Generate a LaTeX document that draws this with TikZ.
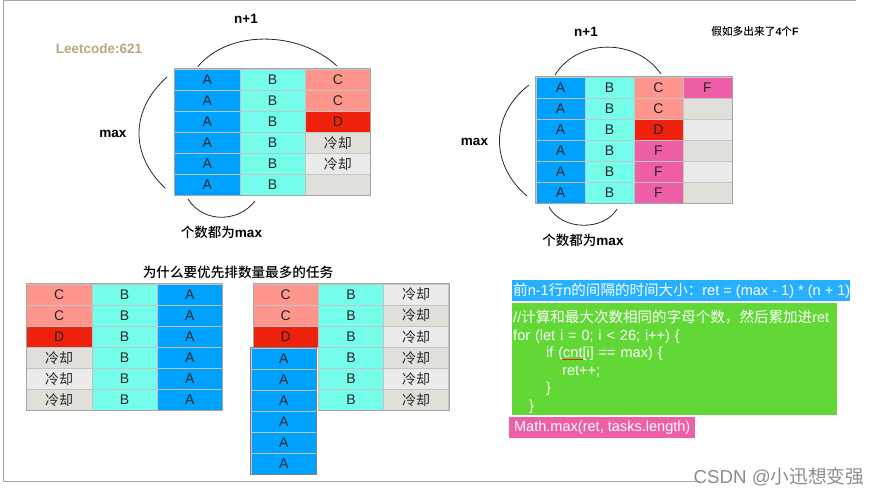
\documentclass[tikz,border=0pt]{standalone}
\usepackage{xcolor}
\usepackage{fontspec}
\setmainfont{Liberation Sans}
\newfontfamily\cjk[BoldFont={Noto Sans CJK SC Medium}]{Noto Sans CJK SC}
\definecolor{taskblue}{HTML}{00A2FF}
\definecolor{taskteal}{HTML}{73FDEA}
\definecolor{tasksalmon}{HTML}{FF968D}
\definecolor{taskred}{HTML}{EE220C}
\definecolor{taskpink}{HTML}{EF5FA7}
\definecolor{taskgrey}{HTML}{E0DFDA}
\definecolor{tasklight}{HTML}{EBEBEB}
\definecolor{taskgreen}{HTML}{61D836}
\definecolor{taskline}{HTML}{C4C4C4}
\definecolor{tasktan}{HTML}{B8A77C}
\definecolor{framegrey}{HTML}{A6A6A6}
\tikzset{
	cell/.style={draw=taskline,line width=0.5pt,minimum height=21.1pt,inner sep=0pt,text=black!85,font=\fontsize{14}{14}\selectfont},
	edge/.style={draw=framegrey,line width=0.8pt},
	brace/.style={draw=black!85,line width=0.8pt},
	label/.style={inner sep=0pt,font=\fontsize{13.5}{14}\selectfont\bfseries},
	code/.style={inner sep=0pt,anchor=north west,text=white,font=\fontsize{14.55}{17.6}\selectfont},
}
\newcommand{\cool}{\raisebox{-1.5pt}{\cjk 冷却}}
% one column of a table: name, centre x, top y, width, fill/text list
\newcommand{\taskcol}[5]{
	\foreach \fillc/\txt [count=\i] in {#5}
		\node[cell,fill=\fillc,minimum width=#4pt] (#1\i) at (#2,{#3+(\i-0.5)*21.1}) {\txt};
}
\begin{document}
\begin{tikzpicture}[x=1pt,y=-1pt]
	\useasboundingbox (0,0) rectangle (880,496);
	\draw[framegrey,line width=0.8pt] (856,0.5) -- (3.5,0.5) -- (3.5,481.5) -- (700,481.5);

	\node[label,text=tasktan] (leet) at (99,48.5) {Leetcode:621};

	% first table
	\taskcol{a}{207.2}{69}{65.3}{taskblue/A,taskblue/A,taskblue/A,taskblue/A,taskblue/A,taskblue/A}
	\taskcol{b}{272.5}{69}{65.3}{taskteal/B,taskteal/B,taskteal/B,taskteal/B,taskteal/B,taskteal/B}
	\taskcol{c}{337.8}{69}{65.3}{tasksalmon/C,tasksalmon/C,taskred/D,taskgrey/\cool,tasklight/\cool,taskgrey/}
	\draw[edge] (a1.north west) rectangle (c6.south east);
	\node[label] (n1) at (246,18.5) {n+1};
	\node[label] (max1) at (113,134) {max};
	\node[label] (all1) at (221.5,232) {{\cjk 个数都为}max};
	\draw[brace] (198,66.5) .. controls (228,30) and (298,30) .. (337,66);
	\draw[brace] (167,77) .. controls (130,110) and (130,155) .. (165,188);
	\draw[brace] (188,199) .. controls (203,223) and (238,223) .. (255,201);

	% second table
	\taskcol{d}{560.5}{77}{49}{taskblue/A,taskblue/A,taskblue/A,taskblue/A,taskblue/A,taskblue/A}
	\taskcol{e}{609.5}{77}{49}{taskteal/B,taskteal/B,taskteal/B,taskteal/B,taskteal/B,taskteal/B}
	\taskcol{f}{658.5}{77}{49}{tasksalmon/C,tasksalmon/C,taskred/D,taskpink/F,taskpink/F,taskpink/F}
	\taskcol{g}{707.5}{77}{49}{taskpink/F,taskgrey/,tasklight/,taskgrey/,tasklight/,taskgrey/}
	\draw[edge] (d1.north west) rectangle (g6.south east);
	\node[label] (n2) at (586,32) {n+1};
	\node[label] (max2) at (474.5,141.5) {max};
	\node[label] (all2) at (583,240) {{\cjk 个数都为}max};
	\node[label,font=\fontsize{10.7}{12}\selectfont\bfseries] (extra) at (755,31) {{\cjk 假如多出来了}4{\cjk 个}F};
	\draw[brace] (555,75) .. controls (578,38) and (636,38) .. (661,74);
	\draw[brace] (529,85) .. controls (490,115) and (490,165) .. (527,196);
	\draw[brace] (549,207) .. controls (562,231) and (604,231) .. (617,209);

	% third table
	\node[label,font=\fontsize{13.6}{14}\selectfont\bfseries] (why) at (238,272.5) {\cjk 为什么要优先排数量最多的任务};
	\taskcol{h}{59.2}{284}{65.3}{tasksalmon/C,tasksalmon/C,taskred/D,taskgrey/\cool,tasklight/\cool,taskgrey/\cool}
	\taskcol{i}{124.5}{284}{65.3}{taskteal/B,taskteal/B,taskteal/B,taskteal/B,taskteal/B,taskteal/B}
	\taskcol{j}{189.8}{284}{65.3}{taskblue/A,taskblue/A,taskblue/A,taskblue/A,taskblue/A,taskblue/A}
	\draw[edge] (h1.north west) rectangle (j6.south east);

	% fourth table
	\taskcol{k}{285.7}{284}{65}{tasksalmon/C,tasksalmon/C,taskred/D}
	\taskcol{l}{351}{284}{65.5}{taskteal/B,taskteal/B,taskteal/B,taskteal/B,taskteal/B,taskteal/B}
	\taskcol{m}{416.2}{284}{65}{tasklight/\cool,taskgrey/\cool,tasklight/\cool,taskgrey/\cool,tasklight/\cool,taskgrey/\cool}
	\draw[edge] (k1.north west) -- (m1.north east) -- (m6.south east) -- (l6.south west);
	\draw[edge] (k1.north west) -- (k3.south west);
	\taskcol{o}{283.7}{348}{65.3}{taskblue/A,taskblue/A,taskblue/A,taskblue/A,taskblue/A,taskblue/A}
	\draw[edge,draw=black!50] (o1.north west) rectangle (o6.south east);

	% code boxes
	\node[code,fill=taskblue!85!white,minimum width=338pt,minimum height=21pt] (gap) at (512,280) {\raisebox{-2pt}{\hspace{1pt}{\cjk 前}n-1{\cjk 行}n{\cjk 的间隔的时间大小：}ret = (max - 1) * (n + 1)}};
	\node[code,fill=taskgreen,minimum width=325pt,minimum height=112.5pt,align=left,text width=325pt] (count) at (512,302.5) {\rule{0pt}{18pt}\hspace*{1pt}//{\cjk 计算和最大次数相同的字母个数，然后累加进}ret\\
		\hspace*{1pt}for (let i = 0; i < 26; i++) \{\\
		\hspace*{34pt}if (cnt[i] == max) \{\\
		\hspace*{50pt}ret++;\\
		\hspace*{34pt}\}\\
		\hspace*{17pt}\}};
	\node[code,fill=taskpink,minimum width=186pt,minimum height=21pt] (total) at (509,417) {\raisebox{-3pt}{Math.max(ret, tasks.length)}};
	\draw[taskred,line width=0.6pt] (562,359.5) -- (583,359.5);

	\node[inner sep=0pt,text=black!45,font=\fontsize{18.7}{20}\selectfont] (mark) at (779,477) {CSDN @{\cjk 小迅想变强}};
\end{tikzpicture}
\end{document}
